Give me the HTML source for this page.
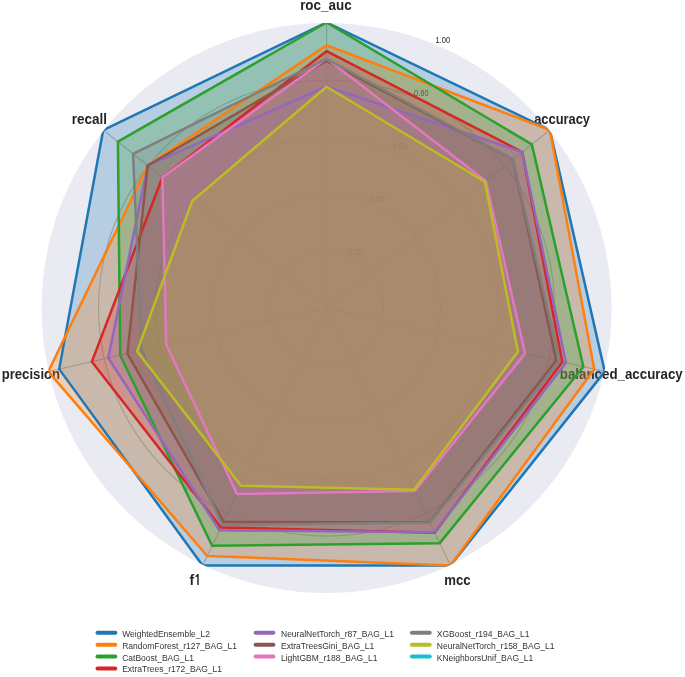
<!DOCTYPE html>
<html><head><meta charset="utf-8"><style>
html,body{margin:0;padding:0;background:#fff;}
svg{display:block;font-family:"Liberation Sans",Arial,sans-serif;}
</style></head><body>
<svg width="685" height="677" viewBox="0 0 685 677">
<circle cx="326.55" cy="308.1" r="285" fill="#eaeaf2"/>
<g fill="none" stroke="#b0b0b0" stroke-width="1.1"><circle cx="326.55" cy="308.1" r="57"/><circle cx="326.55" cy="308.1" r="114"/><circle cx="326.55" cy="308.1" r="171"/><circle cx="326.55" cy="308.1" r="228"/><line x1="326.55" y1="308.1" x2="326.55" y2="23.6"/><line x1="326.55" y1="308.1" x2="548.98" y2="130.72"/><line x1="326.55" y1="308.1" x2="603.92" y2="371.41"/><line x1="326.55" y1="308.1" x2="449.99" y2="564.43"/><line x1="326.55" y1="308.1" x2="203.11" y2="564.43"/><line x1="326.55" y1="308.1" x2="49.18" y2="371.41"/><line x1="326.55" y1="308.1" x2="104.12" y2="130.72"/></g>
<g font-size="8.6" fill="#262626"><text x="348.5" y="254.5" textLength="14.6" lengthAdjust="spacingAndGlyphs">0.20</text><text x="370.1" y="201.9" textLength="14.6" lengthAdjust="spacingAndGlyphs">0.40</text><text x="392.5" y="148.9" textLength="14.6" lengthAdjust="spacingAndGlyphs">0.60</text><text x="414.1" y="95.9" textLength="14.6" lengthAdjust="spacingAndGlyphs">0.80</text><text x="435.6" y="43.1" textLength="14.6" lengthAdjust="spacingAndGlyphs">1.00</text></g>
<g font-size="13.8" font-weight="bold" fill="#262626"><text x="300.13" y="9.6" textLength="51.47" lengthAdjust="spacingAndGlyphs">roc_auc</text><text x="534.17" y="123.7" textLength="55.85" lengthAdjust="spacingAndGlyphs">accuracy</text><text x="559.83" y="379.3" textLength="122.88" lengthAdjust="spacingAndGlyphs">balanced_accuracy</text><text x="444.25" y="584.6" textLength="26.35" lengthAdjust="spacingAndGlyphs">mcc</text><text x="189.6" y="584.6">f<tspan font-family="NanumGothic" dx="-0.8">1</tspan></text><text x="1.65" y="379.45" textLength="58.48" lengthAdjust="spacingAndGlyphs">precision</text><text x="71.72" y="123.8" textLength="35.32" lengthAdjust="spacingAndGlyphs">recall</text></g>
<clipPath id="cp"><circle cx="326.55" cy="308.1" r="285"/></clipPath>
<g clip-path="url(#cp)"><g fill-opacity="0.25"><polygon points="326.55,22.46 549.87,130.01 604.75,371.6 450.48,565.45 202.62,565.45 59.17,369.13 103.23,130.01" fill="#1f77b4"/><polygon points="326.55,45.22 549.87,130.01 594.21,369.19 450.48,565.45 207.18,555.97 48.35,371.6 147.72,165.48" fill="#ff7f0e"/><polygon points="326.55,22.46 531.85,144.38 583.39,366.72 439.74,543.15 212.12,545.71 120.19,355.2 117.91,141.71" fill="#2ca02c"/><polygon points="326.55,51.2 522.29,152 562.31,361.91 434.68,532.64 220.89,527.51 91.9,361.66 162.4,177.19" fill="#d62728"/><polygon points="326.55,86.47 522.29,152 565.92,362.73 434.44,532.13 219.53,530.33 108.26,357.92 147.72,165.48" fill="#9467bd"/><polygon points="326.55,60.87 512.95,159.45 556.21,360.52 429.75,522.39 223.6,521.88 127.4,353.55 147.72,165.48" fill="#8c564b"/><polygon points="326.55,58.59 485.81,181.09 525.14,353.43 414.69,491.12 237.06,493.94 166.23,344.69 162.4,177.19" fill="#e377c2"/><polygon points="326.55,58.88 512.95,159.45 559.54,361.28 429.87,522.64 222.24,524.7 141.55,350.33 133.03,153.78" fill="#7f7f7f"/><polygon points="326.55,86.76 484.92,181.8 517.93,351.78 414.07,489.83 241.01,485.73 137.11,351.34 192.2,200.96" fill="#bcbd22"/></g>
<g fill="none" stroke-width="2.5" stroke-linejoin="round"><polygon points="326.55,22.46 549.87,130.01 604.75,371.6 450.48,565.45 202.62,565.45 59.17,369.13 103.23,130.01" stroke="#1f77b4"/><polygon points="326.55,45.22 549.87,130.01 594.21,369.19 450.48,565.45 207.18,555.97 48.35,371.6 147.72,165.48" stroke="#ff7f0e"/><polygon points="326.55,22.46 531.85,144.38 583.39,366.72 439.74,543.15 212.12,545.71 120.19,355.2 117.91,141.71" stroke="#2ca02c"/><polygon points="326.55,51.2 522.29,152 562.31,361.91 434.68,532.64 220.89,527.51 91.9,361.66 162.4,177.19" stroke="#d62728"/><polygon points="326.55,86.47 522.29,152 565.92,362.73 434.44,532.13 219.53,530.33 108.26,357.92 147.72,165.48" stroke="#9467bd"/><polygon points="326.55,60.87 512.95,159.45 556.21,360.52 429.75,522.39 223.6,521.88 127.4,353.55 147.72,165.48" stroke="#8c564b"/><polygon points="326.55,58.59 485.81,181.09 525.14,353.43 414.69,491.12 237.06,493.94 166.23,344.69 162.4,177.19" stroke="#e377c2"/><polygon points="326.55,58.88 512.95,159.45 559.54,361.28 429.87,522.64 222.24,524.7 141.55,350.33 133.03,153.78" stroke="#7f7f7f"/><polygon points="326.55,86.76 484.92,181.8 517.93,351.78 414.07,489.83 241.01,485.73 137.11,351.34 192.2,200.96" stroke="#bcbd22"/></g></g>
<g stroke-width="4" stroke-linecap="round" font-size="8.5" fill="#333333"><line x1="97.5" y1="632.8" x2="115.3" y2="632.8" stroke="#1f77b4"/><text x="122.2" y="636.8" stroke="none">WeightedEnsemble_L2</text><line x1="97.5" y1="644.65" x2="115.3" y2="644.65" stroke="#ff7f0e"/><text x="122.2" y="648.65" stroke="none">RandomForest_r127_BAG_L1</text><line x1="97.5" y1="656.5" x2="115.3" y2="656.5" stroke="#2ca02c"/><text x="122.2" y="660.5" stroke="none">CatBoost_BAG_L1</text><line x1="97.5" y1="668.4" x2="115.3" y2="668.4" stroke="#d62728"/><text x="122.2" y="672.4" stroke="none">ExtraTrees_r172_BAG_L1</text><line x1="255.6" y1="632.8" x2="273.4" y2="632.8" stroke="#9467bd"/><text x="281" y="636.8" stroke="none">NeuralNetTorch_r87_BAG_L1</text><line x1="255.6" y1="644.65" x2="273.4" y2="644.65" stroke="#8c564b"/><text x="281" y="648.65" stroke="none">ExtraTreesGini_BAG_L1</text><line x1="255.6" y1="656.5" x2="273.4" y2="656.5" stroke="#e377c2"/><text x="281" y="660.5" stroke="none">LightGBM_r188_BAG_L1</text><line x1="411.9" y1="632.8" x2="429.7" y2="632.8" stroke="#7f7f7f"/><text x="436.8" y="636.8" stroke="none">XGBoost_r194_BAG_L1</text><line x1="411.9" y1="644.65" x2="429.7" y2="644.65" stroke="#bcbd22"/><text x="436.8" y="648.65" stroke="none">NeuralNetTorch_r158_BAG_L1</text><line x1="411.9" y1="656.5" x2="429.7" y2="656.5" stroke="#17becf"/><text x="436.8" y="660.5" stroke="none">KNeighborsUnif_BAG_L1</text></g>
</svg>
</body></html>
